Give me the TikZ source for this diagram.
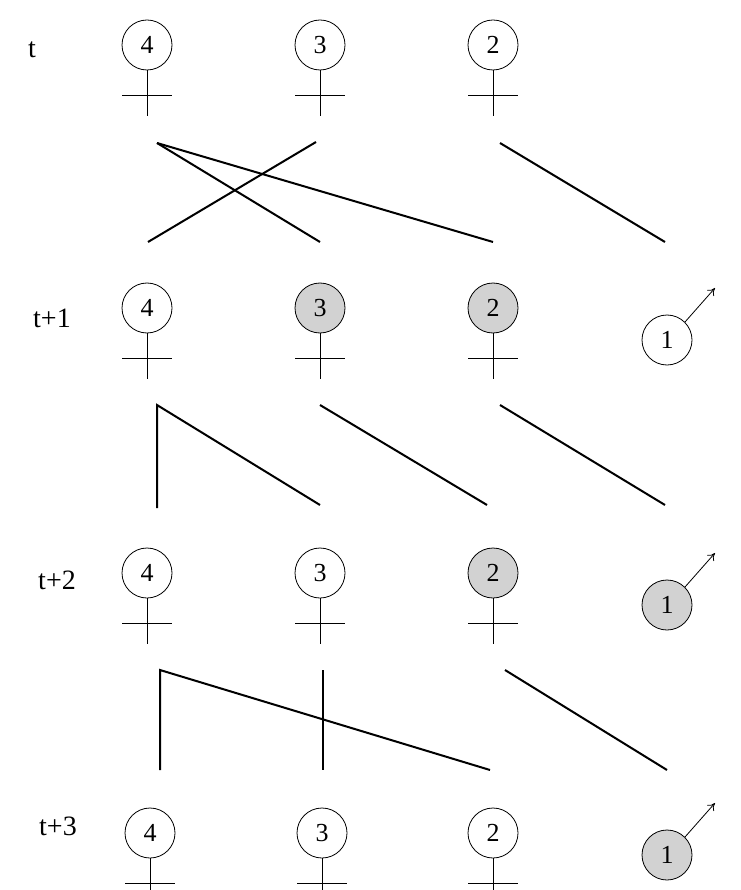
\documentclass[tikz,border=0pt]{standalone}
\usepackage{fontspec}
\usetikzlibrary{arrows.meta}
\setmainfont{Liberation Serif}
\begin{document}
\begin{tikzpicture}[x=1pt,y=-1pt,
  circ/.style={circle,draw,line width=0.8pt,minimum size=50pt,inner sep=0pt,font=\fontsize{26}{28}\selectfont},
  shd/.style={fill=gray!35},
  lbl/.style={font=\fontsize{28}{30}\selectfont},
  link/.style={line width=2pt}]
\useasboundingbox (0,0) rectangle (740,890);
\newcommand{\fem}[2]{%
  \draw[line width=0.8pt] (#1.south) -- ++(0,46);
  \draw[line width=0.8pt] ([yshift=-25]#1.south) ++(-25,0) -- ++(50,0);}
\newcommand{\mal}[1]{%
  \draw[line width=0.8pt,-{To[length=7pt,width=9pt]}] (#1.45) -- ++(30,-34);}
\node[lbl] (lt) at (32,50) {t};
\node[lbl] (lt1) at (52,318) {t+1};
\node[lbl] (lt2) at (57,580) {t+2};
\node[lbl] (lt3) at (58,826) {t+3};
% row t
\node[circ] (a4) at (147,45) {4};
\node[circ] (a3) at (320,45) {3};
\node[circ] (a2) at (493,45) {2};
\fem{a4}{} \fem{a3}{} \fem{a2}{}
% row t+1
\node[circ] (b4) at (147,308) {4};
\node[circ,shd] (b3) at (320,308) {3};
\node[circ,shd] (b2) at (493,308) {2};
\node[circ] (b1) at (667,340) {1};
\fem{b4}{} \fem{b3}{} \fem{b2}{} \mal{b1}
% row t+2
\node[circ] (c4) at (147,573) {4};
\node[circ] (c3) at (320,573) {3};
\node[circ,shd] (c2) at (493,573) {2};
\node[circ,shd] (c1) at (667,605) {1};
\fem{c4}{} \fem{c3}{} \fem{c2}{} \mal{c1}
% row t+3
\node[circ] (d4) at (150,833) {4};
\node[circ] (d3) at (322,833) {3};
\node[circ] (d2) at (493,833) {2};
\node[circ,shd] (d1) at (667,855) {1};
\fem{d4}{} \fem{d3}{} \fem{d2}{} \mal{d1}
% links t -> t+1
\coordinate (p1) at (157,143); \coordinate (q3) at (320,242);
\coordinate (q2) at (493,242); \coordinate (p2) at (316,142);
\coordinate (q4) at (148,242); \coordinate (p3) at (500,143);
\coordinate (q1) at (665,242);
\draw[link] (p1) -- (q3); \draw[link] (p1) -- (q2);
\draw[link] (p2) -- (q4); \draw[link] (p3) -- (q1);
% links t+1 -> t+2
\coordinate (r1) at (157,508); \coordinate (r2) at (157,405);
\coordinate (r3) at (320,505); \coordinate (r4) at (320,405);
\coordinate (r5) at (487,505); \coordinate (r6) at (500,405);
\coordinate (r7) at (665,505);
\draw[link] (r1) -- (r2) -- (r3); \draw[link] (r4) -- (r5); \draw[link] (r6) -- (r7);
% links t+2 -> t+3
\coordinate (s1) at (160,770); \coordinate (s2) at (160,670);
\coordinate (s3) at (490,770); \coordinate (s4) at (323,670);
\coordinate (s5) at (323,770); \coordinate (s6) at (505,670);
\coordinate (s7) at (667,770);
\draw[link] (s1) -- (s2) -- (s3); \draw[link] (s4) -- (s5); \draw[link] (s6) -- (s7);
\end{tikzpicture}
\end{document}
